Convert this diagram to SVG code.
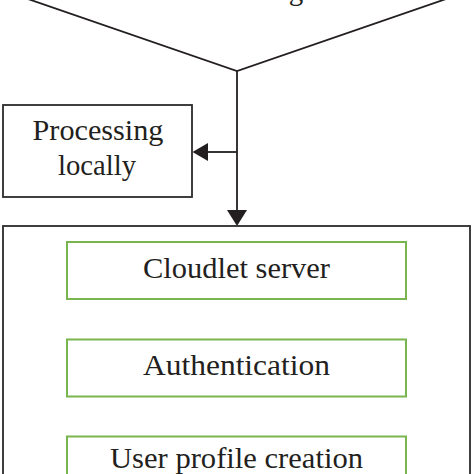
<svg xmlns="http://www.w3.org/2000/svg" width="474" height="474" viewBox="0 0 474 474">
<style>
.box{fill:#fff;stroke:#2b2b2b;stroke-width:1.8}
.gbox{fill:#fff;stroke:#79b54f;stroke-width:2}
.t{font-family:"Liberation Serif","Times New Roman",serif;font-size:29px;fill:#231f20;text-anchor:middle}
.ln{fill:none;stroke:#231f20;stroke-width:1.8}
.ah{fill:#231f20}
</style>
<rect width="474" height="474" fill="#fff"/>
<g id="top-node">
<path class="ln" d="M28,-1 L237,71 L446,-1"/>
<text class="t" x="296" y="-0.5">g</text>
</g>
<g id="connectors">
<line class="ln" x1="237" y1="71" x2="237" y2="212"/>
<line class="ln" x1="237" y1="152" x2="206" y2="152"/>
<polygon class="ah" points="227,210 247,210 237,226"/>
<polygon class="ah" points="208,143 208,161 192.5,152"/>
</g>
<g id="processing-locally">
<rect class="box" x="3" y="105" width="189" height="92"/>
<text class="t" x="98" y="139.5" textLength="131" lengthAdjust="spacingAndGlyphs">Processing</text>
<text class="t" x="97" y="175" textLength="78" lengthAdjust="spacingAndGlyphs">locally</text>
</g>
<g id="cloudlet-container">
<rect class="box" x="3" y="226" width="467" height="260"/>
</g>
<g id="cloudlet-server">
<rect class="gbox" x="67" y="242" width="339" height="57"/>
<text class="t" x="236.5" y="277.5" textLength="187" lengthAdjust="spacingAndGlyphs">Cloudlet server</text>
</g>
<g id="authentication">
<rect class="gbox" x="67" y="339.5" width="339" height="57"/>
<text class="t" x="236.5" y="375" textLength="187" lengthAdjust="spacingAndGlyphs">Authentication</text>
</g>
<g id="user-profile-creation">
<rect class="gbox" x="67" y="436.5" width="339" height="57"/>
<text class="t" x="236.5" y="468" textLength="253" lengthAdjust="spacingAndGlyphs">User profile creation</text>
</g>
</svg>
